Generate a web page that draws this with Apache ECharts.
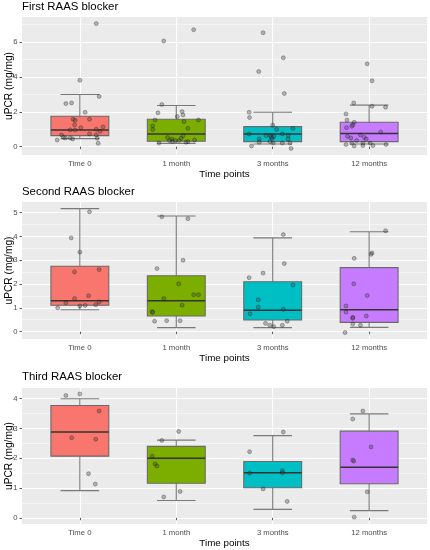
<!DOCTYPE html>
<html>
<head>
<meta charset="utf-8">
<script src="https://cdn.jsdelivr.net/npm/echarts@6/dist/echarts.min.js"></script>
<style>
html,body{margin:0;padding:0;background:#fff;}
#chart{width:430px;height:550px;}
</style>
</head>
<body>
<div id="chart"></div>
<script>
const categories = ['Time 0', '1 month', '3 months', '12 months'];
const panelTitles = ['First RAAS blocker', 'Second RAAS blocker', 'Third RAAS blocker'];
const boxColors = ['#F8766D', '#7CAE00', '#00BFC4', '#C77CFF'];

// box stats per category: [lower whisker, Q1, median, Q3, upper whisker]
const firstBox = [[0.46,0.63,0.96,1.74,2.99],[0.19,0.31,0.73,1.57,2.36],[0.15,0.29,0.73,1.15,1.97],[0.15,0.29,0.75,1.40,2.38]];
const secondBox = [[0.92,1.11,1.30,2.75,5.17],[0.17,0.66,1.30,2.35,4.86],[0.17,0.49,0.90,2.10,3.94],[0.18,0.39,0.92,2.69,4.20]];
const thirdBox = [[0.91,2.07,2.88,3.77,4.00],[0.58,1.16,2.00,2.40,2.61],[0.28,1.01,1.51,1.89,2.76],[0.24,1.14,1.70,2.91,3.49]];

// individual points: [category number, jitter, uPCR]
const firstPoints = [
 [1,0.17,7.06],[1,0,3.81],[1,0.20,2.88],[1,-0.145,2.47],[1,-0.086,2.51],[1,0.055,1.97],[1,-0.07,1.57],[1,-0.05,1.51],[1,0.10,1.57],[1,-0.055,1.25],[1,0.01,1.09],[1,-0.10,0.96],[1,-0.05,0.95],[1,0.17,1.0],[1,0.24,1.13],[1,0.21,0.88],[1,0.10,0.73],[1,0.17,0.67],[1,-0.19,0.67],[1,-0.17,0.53],[1,-0.15,0.50],[1,-0.10,0.50],[1,-0.075,0.44],[1,0.18,0.48],[1,-0.235,0.38],[1,0.19,0.19],
 [2,-0.13,6.06],[2,0.18,6.71],[2,-0.15,2.42],[2,-0.19,1.94],[2,0.06,2.01],[2,0.07,1.82],[2,0.01,1.73],[2,-0.22,1.53],[2,0.08,1.44],[2,0.23,1.53],[2,-0.245,1.19],[2,0.12,1.05],[2,-0.245,0.98],[2,-0.09,0.52],[2,-0.045,0.44],[2,0.07,0.63],[2,0.05,0.48],[2,-0.01,0.35],[2,-0.07,0.35],[2,0.03,0.35],[2,0.12,0.29],[2,0.19,0.38],[2,-0.18,0.21],[2,0.10,0.25],[2,-0.04,0.29],
 [3,-0.10,6.54],[3,0.11,5.10],[3,-0.145,4.31],[3,0.12,3.05],[3,-0.245,1.97],[3,-0.24,1.67],[3,0,1.23],[3,0.04,0.99],[3,0.21,1.05],[3,0.10,0.73],[3,-0.245,0.73],[3,-0.07,0.63],[3,-0.025,0.63],[3,-0.015,0.54],[3,0.01,0.58],[3,-0.005,0.48],[3,0.16,0.63],[3,-0.14,0.44],[3,0.16,0.44],[3,-0.03,0.29],[3,-0.14,0.25],[3,0.005,0.21],[3,0.10,0.21],[3,0.18,0.21],[3,-0.22,0.04],[3,0.19,-0.10],
 [4,-0.02,4.75],[4,0.03,3.78],[4,-0.16,2.51],[4,0.03,2.32],[4,0.17,2.26],[4,-0.24,1.88],[4,-0.23,1.53],[4,-0.155,1.40],[4,-0.17,1.25],[4,-0.18,1.17],[4,-0.235,1.09],[4,0.12,0.84],[4,-0.225,0.59],[4,-0.19,0.50],[4,-0.09,0.67],[4,-0.05,0.53],[4,-0.03,0.44],[4,-0.13,0.35],[4,-0.24,0.12],[4,-0.18,0.21],[4,-0.155,0.04],[4,-0.065,0.21],[4,-0.065,0.06],[4,0.01,0.21],[4,0.04,0.06],[4,0.175,0.12]
];
const secondPoints = [
 [1,0.10,5.04],[1,-0.09,3.94],[1,0,3.34],[1,-0.055,2.51],[1,0.20,2.61],[1,0.09,1.51],[1,-0.055,1.39],[1,-0.145,1.21],[1,0.20,1.25],[1,0.165,1.13],[1,0,1.08],[1,0.055,1.10],[1,-0.23,1.00],
 [2,-0.15,4.83],[2,0.12,4.75],[2,0.07,3.0],[2,-0.20,2.65],[2,0.025,2.01],[2,0.18,1.55],[2,0.23,1.55],[2,-0.13,1.39],[2,0.06,1.11],[2,-0.25,0.84],[2,-0.245,0.81],[2,-0.225,0.44],[2,-0.10,0.46],[2,0.04,0.46],
 [3,0.11,4.08],[3,0.12,2.86],[3,-0.10,2.46],[3,-0.245,2.27],[3,0.21,1.96],[3,-0.15,1.34],[3,-0.15,1.03],[3,0.11,0.94],[3,-0.235,0.75],[3,0.15,0.44],[3,-0.075,0.35],[3,-0.03,0.27],[3,0.01,0.21],[3,0.10,0.27],
 [4,0.17,4.24],[4,0.03,3.31],[4,0.02,3.25],[4,-0.155,3.08],[4,-0.16,2.01],[4,-0.02,1.52],[4,-0.24,1.08],[4,-0.03,0.66],[4,-0.24,0.82],[4,-0.17,0.60],[4,-0.17,0.56],[4,-0.17,0.32],[4,-0.09,0.27],[4,-0.25,-0.04]
];
const thirdPoints = [
 [1,-0.145,4.11],[1,0,4.16],[1,0.20,3.59],[1,-0.085,2.69],[1,0.165,2.64],[1,0.09,1.48],[1,0.16,1.13],
 [2,0.025,2.90],[2,-0.15,2.60],[2,-0.25,2.07],[2,-0.22,1.81],[2,-0.20,1.74],[2,0.04,0.88],[2,-0.13,0.70],
 [3,0.11,2.88],[3,-0.24,2.22],[3,0.10,1.58],[3,0.10,1.51],[3,-0.24,1.50],[3,-0.10,0.97],[3,0.15,0.55],
 [4,-0.065,3.59],[4,-0.17,3.32],[4,0.02,2.38],[4,-0.17,1.94],[4,-0.16,1.90],[4,-0.02,0.87],[4,-0.155,0.02]
];

// y axis ranges and tick values per panel
const yRanges = [[-0.48, 7.44], [-0.31, 5.45], [-0.21, 4.36]];
const yMajorTicks = [[0,2,4,6], [0,1,2,3,4,5], [0,1,2,3,4]];
const yMinorTicks = [[1,3,5,7], [0.5,1.5,2.5,3.5,4.5], [0.5,1.5,2.5,3.5]];
const xPositions = [1,2,3,4];

const boxSets = [firstBox, secondBox, thirdBox];
const pointSets = [firstPoints, secondPoints, thirdPoints];

const grids = [
  {left:22, right:3, top:17, bottom:395},
  {left:22, right:3, top:202, bottom:211},
  {left:22, right:3, top:388, bottom:26}
];
const titleTops = [1, 186, 371];

const FONT = '"Liberation Sans", Arial, sans-serif';

const option = {
  animation: false,
  backgroundColor: '#ffffff',
  title: panelTitles.map((t, i) => ({
    text: t, left: 22, top: titleTops[i], padding: 0,
    textStyle: {fontFamily: FONT, fontSize: 11.4, fontWeight: 'normal', color: '#000'}
  })),
  grid: grids.map(g => Object.assign({show:true, backgroundColor:'#EBEBEB', borderWidth:0, outerBoundsMode:'none', containLabel:false}, g)),
  xAxis: grids.map((g, i) => ({
    type: 'value', gridIndex: i, min: 0.4, max: 4.6,
    name: 'Time points', nameLocation: 'middle', nameGap: 14, nameMoveOverlap: false,
    nameTextStyle: {fontFamily: FONT, fontSize: 9.8, color: '#000'},
    axisLine: {show: false},
    axisTick: {show: true, length: 2.5, customValues: xPositions, lineStyle: {color: '#333', width: 0.8}},
    axisLabel: {customValues: xPositions, margin: 5, fontFamily: FONT, fontSize: 7.7, color: '#4D4D4D',
      formatter: v => categories[Math.round(v) - 1] || ''},
    splitLine: {show: true, lineStyle: {color: '#ffffff', width: 1}}
  })),
  yAxis: [],
  series: []
};

for (let i = 0; i < 3; i++) {
  option.yAxis.push({
    type: 'value', gridIndex: i, min: yRanges[i][0], max: yRanges[i][1],
    name: 'uPCR (mg/mg)', nameLocation: 'middle', nameGap: 8, nameMoveOverlap: false,
    nameTextStyle: {fontFamily: FONT, fontSize: 10.2, color: '#000'},
    axisLine: {show: false},
    axisTick: {show: true, length: 2.5, customValues: yMajorTicks[i], lineStyle: {color: '#333', width: 0.8}},
    axisLabel: {customValues: yMajorTicks[i], margin: 4.5, fontFamily: FONT, fontSize: 7.7, color: '#4D4D4D'},
    splitLine: {show: true, lineStyle: {color: '#ffffff', width: 1}}
  });
  option.yAxis.push({
    type: 'value', gridIndex: i, min: yRanges[i][0], max: yRanges[i][1],
    axisLine: {show: false},
    axisTick: {show: false, customValues: yMinorTicks[i]},
    axisLabel: {show: false, customValues: yMinorTicks[i]},
    splitLine: {show: true, lineStyle: {color: '#ffffff', width: 0.5}}
  });
}

function renderBox(params, api) {
  const x = api.value(0);
  const low = api.value(1), q1 = api.value(2), med = api.value(3), q3 = api.value(4), high = api.value(5);
  const cx = api.coord([x, med])[0];
  const yLow = api.coord([x, low])[1];
  const yQ1 = api.coord([x, q1])[1];
  const yMed = api.coord([x, med])[1];
  const yQ3 = api.coord([x, q3])[1];
  const yHigh = api.coord([x, high])[1];
  const halfBox = api.size([0.3, 0])[0];
  const halfCap = api.size([0.2, 0])[0];
  const col = boxColors[Math.round(x) - 1];
  const wStyle = {stroke: '#7a7a7a', lineWidth: 1.1};
  return {
    type: 'group',
    children: [
      {type: 'line', shape: {x1: cx, y1: yHigh, x2: cx, y2: yLow}, style: wStyle},
      {type: 'line', shape: {x1: cx - halfCap, y1: yHigh, x2: cx + halfCap, y2: yHigh}, style: wStyle},
      {type: 'line', shape: {x1: cx - halfCap, y1: yLow, x2: cx + halfCap, y2: yLow}, style: wStyle},
      {type: 'rect', shape: {x: cx - halfBox, y: yQ3, width: 2 * halfBox, height: yQ1 - yQ3},
        style: {fill: col, stroke: '#6a6a6a', lineWidth: 1.1}},
      {type: 'line', shape: {x1: cx - halfBox, y1: yMed, x2: cx + halfBox, y2: yMed},
        style: {stroke: '#333333', lineWidth: 1.5}}
    ]
  };
}

for (let i = 0; i < 3; i++) {
  option.series.push({
    type: 'custom', xAxisIndex: i, yAxisIndex: 2 * i, z: 2,
    renderItem: renderBox,
    encode: {x: 0, y: [1, 2, 3, 4, 5]},
    data: boxSets[i].map((s, k) => [xPositions[k]].concat(s))
  });
  option.series.push({
    type: 'scatter', xAxisIndex: i, yAxisIndex: 2 * i, z: 3,
    symbol: 'circle', symbolSize: 4,
    itemStyle: {color: 'rgba(70,70,70,0.45)', borderColor: 'rgba(0,0,0,0.55)', borderWidth: 0.6},
    data: pointSets[i].map(p => [p[0] + p[1], p[2]])
  });
}

const chart = echarts.init(document.getElementById('chart'), null, {renderer: 'canvas'});
chart.setOption(option);
</script>
</body>
</html>
